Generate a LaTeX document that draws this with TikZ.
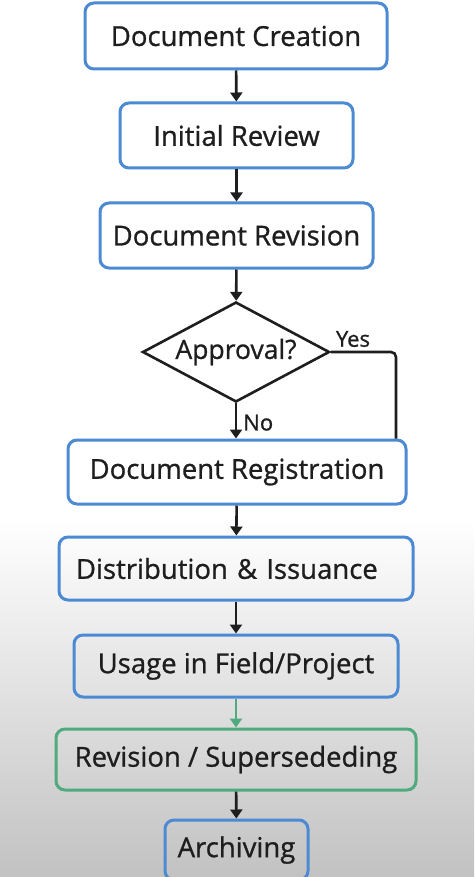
\documentclass[tikz,border=0pt]{standalone}
\usepackage{fontspec}
\setmainfont{Open Sans}[FakeBold=0.9]
\usetikzlibrary{arrows.meta,shapes.geometric}
\definecolor{boxblue}{HTML}{4D8AD4}
\definecolor{boxgreen}{HTML}{4FAA7E}
\definecolor{ink}{HTML}{1E1E1E}
\tikzset{
  stepbox/.style={draw=boxblue, line width=3pt, rounded corners=9pt, inner sep=0pt,
    font=\fontsize{27.5}{32}\selectfont, text=ink},
  greenbox/.style={stepbox, draw=boxgreen},
  decision/.style={draw=ink, line width=2.6pt, diamond, aspect=1.87, inner sep=0pt,
    minimum width=187pt, minimum height=100pt, font=\fontsize{26.5}{30}\selectfont, text=ink},
  flow/.style={draw=ink, line width=2.6pt, -{Triangle[width=12pt,length=9pt]}},
  gflow/.style={flow, draw=boxgreen, -{Triangle[width=12pt,length=9pt,fill=boxgreen]}},
  lbl/.style={font=\fontsize{22}{24}\selectfont, text=ink, inner sep=0pt}
}
\begin{document}
\begin{tikzpicture}[x=1pt,y=-1pt]
\useasboundingbox (0,0) rectangle (474,877);
\fill[white] (0,0) rectangle (474,520);
\shade[top color=white, bottom color=black!24] (0,520) rectangle (474,877);

\node[stepbox, minimum width=302pt, minimum height=66pt] (create) at (236,36) {Document Creation};
\node[stepbox, minimum width=233pt, minimum height=65pt] (review) at (236.5,135.5) {Initial Review};
\node[stepbox, minimum width=273pt, minimum height=65pt] (revise) at (236.5,235.5) {Document Revision};
\node[decision] (appr) at (236,352) {Approval?};
\node[stepbox, minimum width=338pt, minimum height=64pt] (reg) at (237,472) {Document Registration};
\node[stepbox, minimum width=354pt, minimum height=63pt, text width=354pt-34pt, align=left] (dist) at (236,568.5) {Distribution \& Issuance};
\node[stepbox, minimum width=324pt, minimum height=62pt] (use) at (236,666) {Usage in Field/Project};
\node[greenbox, minimum width=360pt, minimum height=61pt] (sup) at (236,759.5) {Revision / Supersededing};
\node[stepbox, minimum width=143pt, minimum height=60pt] (arch) at (236.5,850) {Archiving};

\draw[flow] (create) -- (review);
\draw[flow] (review) -- (revise);
\draw[flow] (revise) -- (appr);
\draw[flow] (appr) -- node[lbl, right=6pt, pos=0.55] (no) {No} (appr |- reg.north);
\coordinate (yesend) at ([xshift=159pt]reg.north);
\draw[draw=ink, line width=2.6pt, rounded corners=5pt] (appr.east) -| (yesend);
\node[lbl] (yes) at (353,339) {Yes};
\draw[flow] (reg) -- (dist);
\draw[flow] (dist.south -| use.north) -- (use);
\draw[gflow] (use) -- (sup);
\draw[flow] (sup) -- (arch);
\end{tikzpicture}
\end{document}
